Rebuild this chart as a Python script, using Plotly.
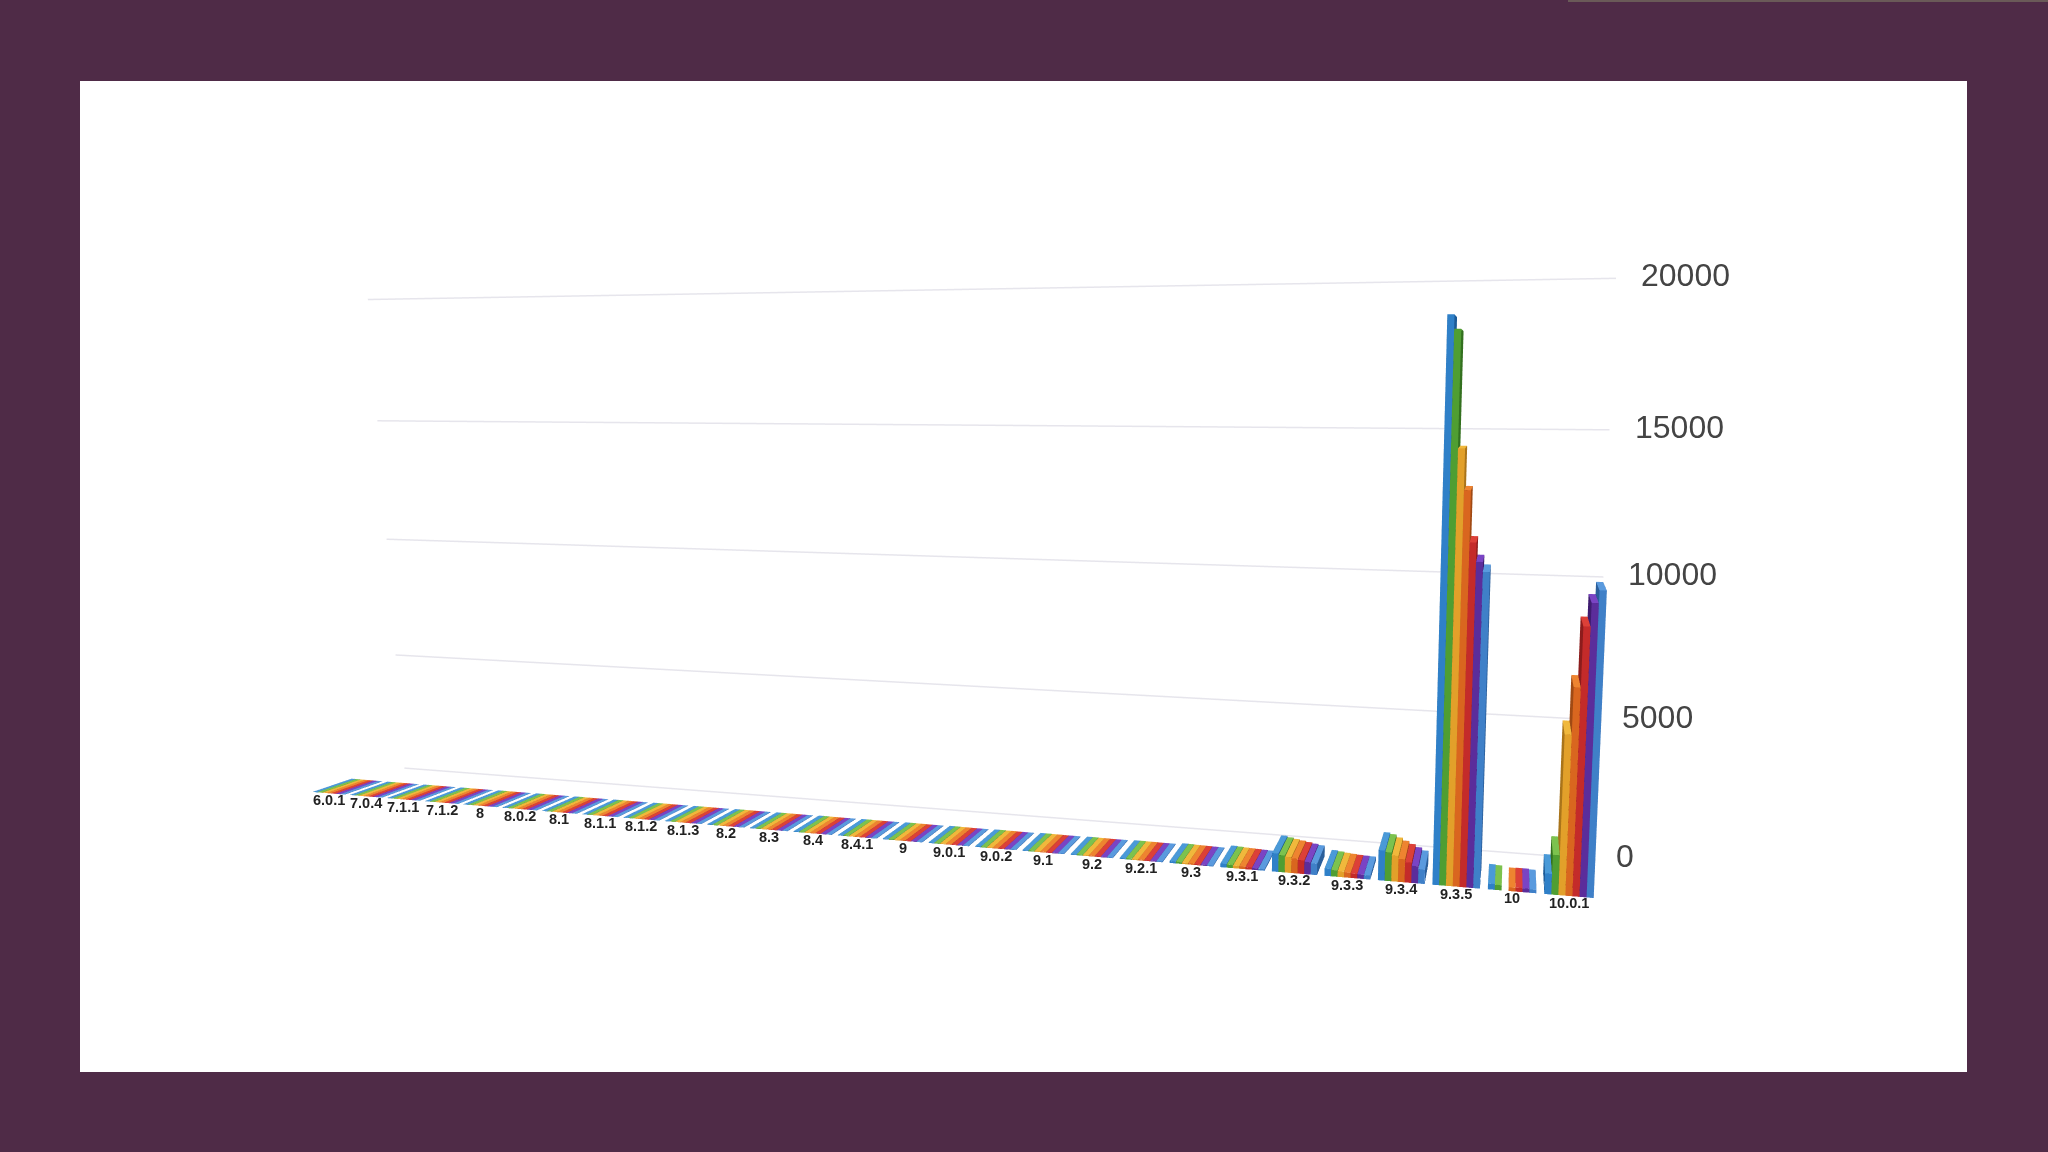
import plotly.graph_objects as go

CATEGORIES = ["6.0.1","7.0.4","7.1.1","7.1.2","8","8.0.2","8.1","8.1.1","8.1.2","8.1.3","8.2","8.3","8.4","8.4.1",
              "9","9.0.1","9.0.2","9.1","9.2","9.2.1","9.3","9.3.1","9.3.2","9.3.3","9.3.4","9.3.5","10","10.0.1"]
S1 = [15,10,10,12,15,15,15,15,15,15,20,20,25,25,30,30,30,35,35,40,70,130,650,260,1050,18700,200,700]
S2 = [15,10,10,12,15,15,15,15,15,15,20,20,25,25,30,30,30,35,35,40,65,115,600,230,1000,18250,180,1350]
S3 = [12,10,10,10,12,12,12,12,15,15,18,18,20,20,25,25,25,30,30,35,55,100,560,200,900,14500,0,5380]
S4 = [12,10,10,10,12,12,12,12,15,15,18,18,20,20,25,25,25,30,30,35,50,90,520,180,800,13170,130,6940]
S5 = [10,10,10,10,10,10,10,10,12,12,15,15,18,18,20,20,20,25,25,30,45,80,480,160,700,11500,140,8920]
S6 = [10,8,8,8,10,10,10,10,12,12,15,15,18,18,20,20,20,25,25,30,40,70,440,150,600,10880,140,9680]
S7 = [10,8,8,8,10,10,10,10,12,12,15,15,18,18,20,20,20,25,25,30,35,60,400,140,500,10560,120,10090]
SERIES = [S1, S2, S3, S4, S5, S6, S7]
Z_TICKS = [0, 5000, 10000, 15000, 20000]
# top, front, side shades for each series
SHADES = [("#4a9ad8","#2f80c8","#1c5a96"),("#7cc24e","#4f9e32","#33701f"),("#f0b83c","#e2a02a","#a9741a"),
          ("#ee8430","#d9661f","#a04a14"),("#dc4038","#c42b2a","#8c1c1c"),("#7a44c4","#5b2d9b","#3e1c70"),
          ("#5a9ade","#3f80c8","#2a5e9a")]

GROUP = 0.86
DEPTH = 0.5
GRID_START = 0.55


def box_trace(values, index, shades):
    top, front, side = shades
    w = GROUP / len(SERIES)
    xs, ys, zs, i, j, k, fc = [], [], [], [], [], [], []
    for c, v in enumerate(values):
        if v <= 0:
            continue
        x0 = c + 0.5 - GROUP / 2 + index * w
        x1 = x0 + w
        n = len(xs)
        xs += [x0, x1, x1, x0, x0, x1, x1, x0]
        ys += [0, 0, DEPTH, DEPTH, 0, 0, DEPTH, DEPTH]
        zs += [0, 0, 0, 0, v, v, v, v]
        faces = [((0,1,5),front),((0,5,4),front),((1,2,6),side),((1,6,5),side),((4,5,6),top),((4,6,7),top),
                 ((3,0,4),side),((3,4,7),side),((2,3,7),side),((2,7,6),side)]
        for (a, b, d), col in faces:
            i.append(n + a); j.append(n + b); k.append(n + d); fc.append(col)
    return go.Mesh3d(x=xs, y=ys, z=zs, i=i, j=j, k=k, facecolor=fc, flatshading=True,
                     lighting=dict(ambient=1, diffuse=0, specular=0, roughness=1, fresnel=0), hoverinfo="skip")


fig = go.Figure()
for t in Z_TICKS:
    fig.add_trace(go.Scatter3d(x=[GRID_START, len(CATEGORIES)], y=[1, 1], z=[t, t], mode="lines",
                               line=dict(color="#e6e5ec", width=3), hoverinfo="skip"))
for idx, (vals, sh) in enumerate(zip(SERIES, SHADES)):
    fig.add_trace(box_trace(vals, idx, sh))

annos = []
for c, name in enumerate(CATEGORIES):
    annos.append(dict(x=c + 0.5, y=0, z=0, text=f"<b>{name}</b>", showarrow=False, xanchor="center", yanchor="top",
                      yshift=3, font=dict(family="Liberation Sans", size=14.5, color="#222222")))
for t in Z_TICKS:
    annos.append(dict(x=len(CATEGORIES), y=1, z=t, text=str(t), showarrow=False, xanchor="left", yanchor="middle",
                      xshift=23, yshift=3, font=dict(family="Liberation Sans", size=32, color="#444444")))

hidden = dict(visible=False, showgrid=False, zeroline=False, showbackground=False, showspikes=False)
fig.update_layout(
    width=2048, height=1152, autosize=False, margin=dict(l=0, r=0, t=0, b=0),
    paper_bgcolor="#4f2b47", showlegend=False, hovermode=False,
    shapes=[dict(type="rect", xref="paper", yref="paper", x0=80/2048, x1=1967/2048, y0=1-1072/1152, y1=1-81/1152,
                 fillcolor="white", line=dict(width=0), layer="below"),
            dict(type="rect", xref="paper", yref="paper", x0=1568/2048, x1=1, y0=1-2/1152, y1=1,
                 fillcolor="#6a5a58", line=dict(width=0), layer="below")],
    scene=dict(
        domain=dict(x=[232/1568, 1], y=[0, 1]),
        bgcolor="rgba(0,0,0,0)",
        xaxis=dict(range=[0, len(CATEGORIES)], **hidden),
        yaxis=dict(range=[0, 1], **hidden),
        zaxis=dict(range=[0, 20000], **hidden),
        aspectmode="manual", aspectratio=dict(x=2.525, y=0.195, z=1),
        camera=dict(eye=dict(x=1.1068, y=-2.3603, z=0.3260), center=dict(x=0.4997, y=0.1427, z=-0.0292),
                    up=dict(x=0, y=0, z=1), projection=dict(type="perspective")),
        annotations=annos,
    ),
)
fig.write_html("out.html", config=dict(displayModeBar=False),
               post_script="document.body.style.margin='0';document.documentElement.style.overflow='hidden';")
